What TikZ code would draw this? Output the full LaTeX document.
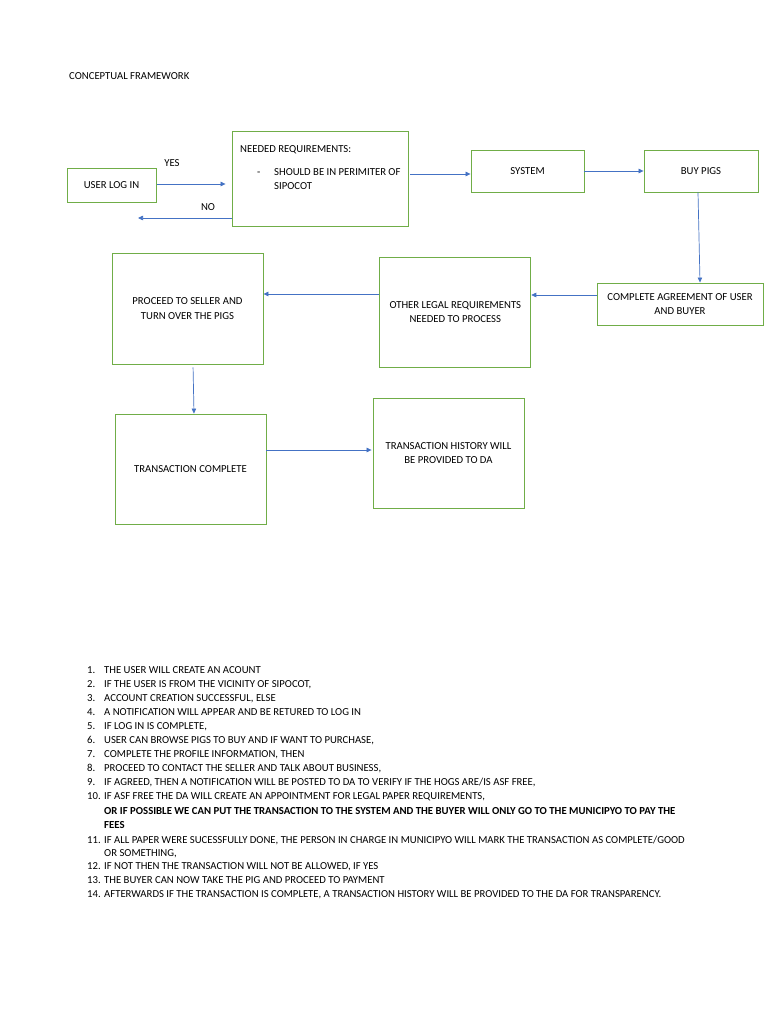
\documentclass[tikz,border=0pt]{standalone}
\usepackage{fontspec}
\setmainfont{Carlito}
\usetikzlibrary{arrows.meta}
\definecolor{boxgreen}{HTML}{70AD47}
\definecolor{flowblue}{HTML}{4472C4}

\begin{document}
\begin{tikzpicture}[x=1pt, y=-1pt,
    box/.style={draw=boxgreen, line width=0.9pt, rectangle, inner sep=0pt, align=center, font=\fontsize{10.7}{14.5}\selectfont},
    flow/.style={draw=flowblue, line width=0.7pt, -{Triangle[length=5pt,width=4.5pt]}},
    txt/.style={inner sep=0pt, font=\fontsize{10.7}{14}\selectfont}]
    \useasboundingbox[fill=white] (0,0) rectangle (768,1024);

    % Title
    \node[txt, anchor=base west] (title) at (69,79.5) {CONCEPTUAL FRAMEWORK};

    % Top row
    \node[box, minimum width=89, minimum height=34] (userlogin) at (111.5,185) {USER LOG IN};
    \node[box, minimum width=176, minimum height=95] (needed) at (320,178.5) {};
    \node[txt, anchor=base west] (reqhead) at (240,152.5) {NEEDED REQUIREMENTS:};
    \node[txt, anchor=base west] (reqdash) at (257,175.5) {-};
    \node[txt, anchor=base west] (reqitem) at (274,175.5) {SHOULD BE IN PERIMITER OF};
    \node[txt, anchor=base west] (reqitemb) at (274,189.5) {SIPOCOT};
    \node[box, minimum width=113, minimum height=42] (system) at (527.5,171) {SYSTEM};
    \node[box, minimum width=114, minimum height=42] (buypigs) at (701,171) {BUY PIGS};

    % Middle row
    \node[box, minimum width=166, minimum height=42] (agreement) at (680,304) {COMPLETE AGREEMENT OF USER\\AND BUYER};
    \node[box, minimum width=151, minimum height=110] (legal) at (455.3,312) {OTHER LEGAL REQUIREMENTS\\NEEDED TO PROCESS};
    \node[box, minimum width=151, minimum height=111] (seller) at (187.5,308.5) {PROCEED TO SELLER AND\\TURN OVER THE PIGS};

    % Bottom row
    \node[box, minimum width=151, minimum height=110] (complete) at (190.5,469) {TRANSACTION COMPLETE};
    \node[box, minimum width=151, minimum height=110] (history) at (448.5,453) {TRANSACTION HISTORY WILL\\BE PROVIDED TO DA};

    % Arrows
    \coordinate (noend) at (138,218);
    \draw[flow, shorten <=1pt, shorten >=6pt] ([yshift=1pt]userlogin.east) -- ([yshift=1pt]userlogin.east -| needed.west);
    \node[txt] (yes) at (172,163) {YES};
    \draw[flow] (needed.west |- noend) -- (noend);
    \node[txt] (no) at (208,207) {NO};
    \draw[flow, shorten <=2pt] ([yshift=-3pt]system.west -| needed.east) -- ([yshift=-3pt]system.west);
    \draw[flow] (system) -- (buypigs);
    \draw[flow] ([xshift=-3pt]buypigs.south) -- ([xshift=20pt]agreement.north);
    \draw[flow] ([yshift=9pt]agreement.west) -- ([yshift=9pt]agreement.west -| legal.east);
    \draw[flow] ([yshift=18pt]legal.west) -- ([yshift=18pt]legal.west -| seller.east);
    \draw[flow, shorten <=3pt] ([xshift=5.5pt]seller.south) -- ([xshift=3.5pt]complete.north);
    \draw[flow, shorten >=1pt] ([yshift=19pt]complete.east) -- ([yshift=19pt]complete.east -| history.west);

    % Steps
    \foreach \n/\y/\t in {1/673.5/{THE USER WILL CREATE AN ACOUNT},
        2/687.5/{IF THE USER IS FROM THE VICINITY OF SIPOCOT,},
        3/701.5/{ACCOUNT CREATION SUCCESSFUL, ELSE},
        4/715.5/{A NOTIFICATION WILL APPEAR AND BE RETURED TO LOG IN},
        5/729.5/{IF LOG IN IS COMPLETE,},
        6/743.5/{USER CAN BROWSE PIGS TO BUY AND IF WANT TO PURCHASE,},
        7/757.5/{COMPLETE THE PROFILE INFORMATION, THEN},
        8/771.5/{PROCEED TO CONTACT THE SELLER AND TALK ABOUT BUSINESS,},
        9/785.5/{IF AGREED, THEN A NOTIFICATION WILL BE POSTED TO DA TO VERIFY IF THE HOGS ARE/IS ASF FREE,},
        10/799.5/{IF ASF FREE THE DA WILL CREATE AN APPOINTMENT FOR LEGAL PAPER REQUIREMENTS,},
        11/843/{IF ALL PAPER WERE SUCESSFULLY DONE, THE PERSON IN CHARGE IN MUNICIPYO WILL MARK THE TRANSACTION AS COMPLETE/GOOD},
        12/869.5/{IF NOT THEN THE TRANSACTION WILL NOT BE ALLOWED, IF YES},
        13/883/{THE BUYER CAN NOW TAKE THE PIG AND PROCEED TO PAYMENT},
        14/897/{AFTERWARDS IF THE TRANSACTION IS COMPLETE, A TRANSACTION HISTORY WILL BE PROVIDED TO THE DA FOR TRANSPARENCY.}}
    {
        \node[txt, anchor=base west] (num\n) at (87,\y) {\n.};
        \node[txt, anchor=base west] (step\n) at (104,\y) {\t};
    }
    \node[txt, anchor=base west, font=\fontsize{10.75}{14}\selectfont\bfseries] (stepnote) at (104,814) {OR IF POSSIBLE WE CAN PUT THE TRANSACTION TO THE SYSTEM AND THE BUYER WILL ONLY GO TO THE MUNICIPYO TO PAY THE};
    \node[txt, anchor=base west, font=\fontsize{10.75}{14}\selectfont\bfseries] (stepnoteb) at (104,828.5) {FEES};
    \node[txt, anchor=base west] (step11b) at (104,856) {OR SOMETHING,};

\end{tikzpicture}
\end{document}
